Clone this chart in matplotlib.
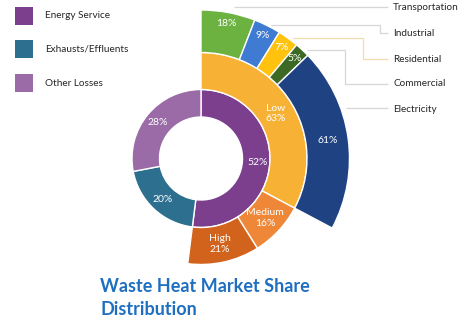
import matplotlib
matplotlib.use('Agg')
import matplotlib.pyplot as plt
import numpy as np
from matplotlib.patches import Rectangle

# ---- data ----
inner_labels = ['Energy Service', 'Exhausts/Effluents', 'Other Losses']
inner_values = [52, 20, 28]
mid_labels = ['Low', 'Medium', 'High']
mid_values = [63, 16, 21]
outer_labels = ['Transportation', 'Industrial', 'Residential', 'Commercial', 'Electricity']
outer_values = [18, 9, 7, 5, 61]
title_lines = ['Waste Heat Market Share', 'Distribution']

# ---- style ----
inner_colors = ['#7B3F8E', '#2D6F8F', '#9A6BA6']
mid_colors = ['#F7B235', '#EF8738', '#D1631C']
outer_colors = ['#6BB241', '#3F7AD3', '#FFC20E', '#3C6A25', '#1F4283']
FONT = ['Lato', 'DejaVu Sans']

W, H = 474, 323
cx, cy = 201, 158.5
r_hole, r_in, r_mid, r_out = 41.5, 69, 106, 148.5

fig = plt.figure(figsize=(W / 100, H / 100), dpi=100)
ax = fig.add_axes([0, 0, 1, 1])


def P(px, py):
    return px - cx, cy - py


def polar(theta_deg, r):
    t = np.radians(theta_deg)
    return r * np.sin(t), r * np.cos(t)


wp = dict(edgecolor='white', linewidth=1.0)

# inner ring
tot_in = sum(inner_values)
ax.pie(inner_values, radius=r_in, startangle=90, counterclock=False,
       colors=inner_colors, wedgeprops=dict(width=r_in - r_hole, **wp))

# middle ring (breakdown of Energy Service)
es_frac = inner_values[0] / tot_in
tot_mid = sum(mid_values)
mid_fracs = [v / tot_mid * es_frac for v in mid_values]
w_mid, _ = ax.pie(mid_fracs + [1 - sum(mid_fracs)], radius=r_mid, startangle=90,
                  counterclock=False, colors=mid_colors + ['white'],
                  wedgeprops=dict(width=r_mid - r_in, **wp))
w_mid[-1].set_visible(False)

# outer ring (breakdown of Low)
low_frac = mid_fracs[0]
tot_out = sum(outer_values)
out_fracs = [v / tot_out * low_frac for v in outer_values]
w_out, _ = ax.pie(out_fracs + [1 - sum(out_fracs)], radius=r_out, startangle=90,
                  counterclock=False, colors=outer_colors + ['white'],
                  wedgeprops=dict(width=r_out - r_mid, **wp))
w_out[-1].set_visible(False)

lab_kw = dict(color='white', fontsize=7.5, ha='center', va='center',
              family=FONT, linespacing=1.25)

# inner labels
start = 0
for v in inner_values:
    ang = (start + v / 2) / tot_in * 360
    x, y = polar(ang, (r_in + r_hole) / 2 + 1)
    ax.text(x, y, f'{v}%', **lab_kw)
    start += v

# mid labels
start = 0
for lab, f in zip(mid_labels, mid_fracs):
    ang = (start + f / 2) * 360
    x, y = polar(ang, (r_mid + r_in) / 2)
    ax.text(x, y, f'{lab}\n{round(f / es_frac * 100)}%', **lab_kw)
    start += f

# outer labels
start = 0
out_mid_angles = []
for v, f in zip(outer_values, out_fracs):
    ang = (start + f / 2) * 360
    out_mid_angles.append(ang)
    rr = 137 if v < 20 else 128
    x, y = polar(ang, rr)
    ax.text(x, y, f'{v}%', **lab_kw)
    start += f

# leader lines + category labels on the right
label_py = [7, 33, 59, 84, 110]
level_py = [7, 25, 38, 50, 108]
elbow_px = [None, 380, 363, 345, None]
line_colors = ['#d6d6d6', '#d6d6d6', '#f3dcae', '#d6d6d6', '#d6d6d6']
end_px, text_px = 388, 393
for i, lab in enumerate(outer_labels):
    ly = cy - level_py[i]
    if abs(ly) < r_out:
        sx = np.sqrt(r_out ** 2 - ly ** 2) + 5
    else:
        sx = polar(out_mid_angles[i], r_out)[0] + 6
    tx, ty = P(end_px, label_py[i])
    if elbow_px[i] is None:
        xs = [sx, tx]
        ys = [ly, ly]
    else:
        ex = elbow_px[i] - cx
        xs = [sx, ex, ex, tx]
        ys = [ly, ly, ty, ty]
    ax.plot(xs, ys, color=line_colors[i], lw=0.9, solid_capstyle='butt')
    x, y = P(text_px, label_py[i])
    ax.text(x, y, lab, fontsize=7.2, color='#262626', ha='left', va='center',
            family=FONT)

# legend (left)
leg_py = [16, 49, 83]
for lab, col, py in zip(inner_labels, inner_colors, leg_py):
    x0, y0 = P(15, py + 9)
    ax.add_patch(Rectangle((x0, y0), 18, 18, facecolor=col, edgecolor='none'))
    x, y = P(45, py)
    ax.text(x, y, lab, fontsize=7.2, color='#262626', ha='left', va='center',
            family=FONT)

# title
for line, py in zip(title_lines, [292, 315]):
    x, y = P(100, py)
    ax.text(x, y, line, fontsize=13, color='#1F6FC0', fontweight='bold',
            ha='left', va='baseline', family=FONT)

ax.set_xlim(-cx, W - cx)
ax.set_ylim(cy - H, cy)
ax.set_aspect('equal')
ax.axis('off')
fig.savefig('out.png', dpi=100, facecolor='white')
